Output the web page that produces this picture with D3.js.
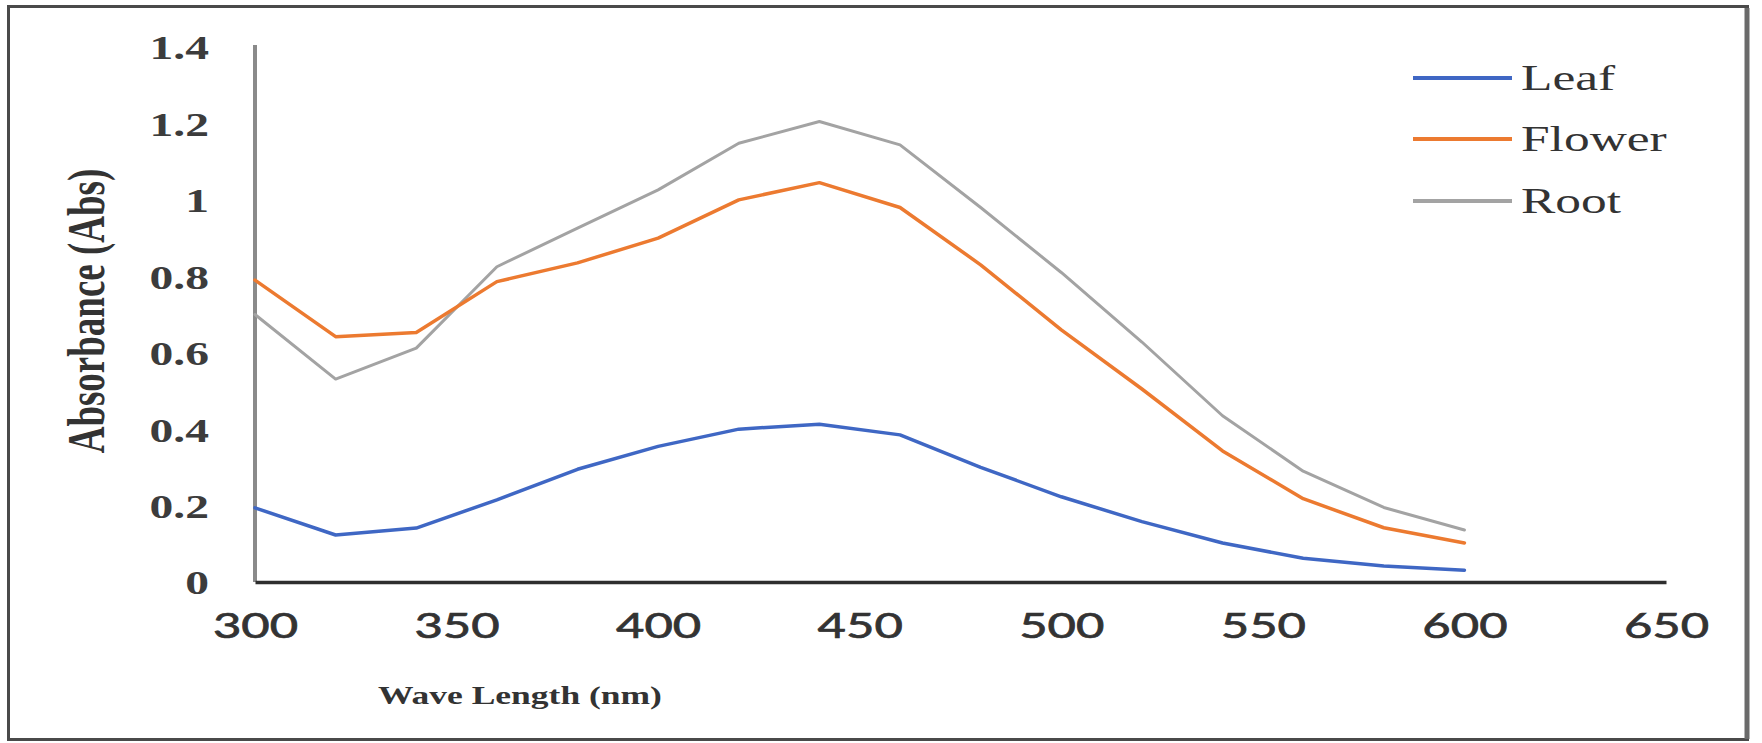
<!DOCTYPE html>
<html>
<head>
<meta charset="utf-8">
<script src="https://cdn.jsdelivr.net/npm/d3@7"></script>
<style>
  html, body { margin: 0; padding: 0; background: #ffffff; }
  svg { display: block; }
</style>
</head>
<body>
<svg id="chart" width="1762" height="743"></svg>
<script>
// ---- data ----
const wavelengths = [300, 320, 340, 360, 380, 400, 420, 440, 460, 480, 500, 520, 540, 560, 580, 600];
const leaf   = [0.194, 0.123, 0.141, 0.215, 0.295, 0.355, 0.400, 0.413, 0.385, 0.300, 0.223, 0.158, 0.102, 0.062, 0.042, 0.031];
const flower = [0.790, 0.642, 0.653, 0.786, 0.835, 0.900, 1.000, 1.045, 0.980, 0.830, 0.660, 0.505, 0.343, 0.218, 0.142, 0.102];
const root   = [0.700, 0.531, 0.612, 0.825, 0.926, 1.026, 1.148, 1.205, 1.144, 0.980, 0.810, 0.628, 0.435, 0.290, 0.195, 0.136];
const seriesNames = ["Leaf", "Flower", "Root"];
const seriesColors = ["#3f67c4", "#ec7a30", "#a3a3a3"];
const xTicks = [300, 350, 400, 450, 500, 550, 600, 650];
const yTicks = [0, 0.2, 0.4, 0.6, 0.8, 1.0, 1.2, 1.4];
const yTickLabels = ["0", "0.2", "0.4", "0.6", "0.8", "1", "1.2", "1.4"];
const xTitle = "Wave Length (nm)";
const yTitle = "Absorbance (Abs)";

const svg = d3.select("#chart");

// outer frame
svg.append("rect")
  .attr("x", 8.5).attr("y", 6.5).attr("width", 1739).attr("height", 733)
  .attr("fill", "#ffffff").attr("stroke", "#4a4a4a").attr("stroke-width", 3);
svg.append("line")
  .attr("x1", 1747).attr("x2", 1747).attr("y1", 8).attr("y2", 739)
  .attr("stroke", "#6a6a6a").attr("stroke-width", 5);

const x = d3.scaleLinear().domain([300, 650]).range([255, 1666]);
const y = d3.scaleLinear().domain([0, 1.4]).range([582, 47]);

// y axis
const gy = svg.append("g").attr("transform", `translate(${x(300)},0)`)
  .call(d3.axisLeft(y).tickValues(yTicks).tickSize(0).tickSizeOuter(0)
        .tickFormat((d, i) => yTickLabels[i]));
gy.select(".domain").attr("stroke", "#8a8a8a").attr("stroke-width", 4)
  .attr("d", `M0,${y(1.4) - 2}V${y(0)}`);
gy.selectAll(".tick text")
  .attr("x", 0).attr("dy", "0.35em")
  .attr("transform", "translate(-46,0) scale(1.4,1)")
  .attr("text-anchor", "end")
  .attr("fill", "#3c3c3c")
  .style("font-family", "'Liberation Serif', 'Times New Roman', serif")
  .style("font-weight", "bold")
  .style("font-size", "34px");

// x axis
const gx = svg.append("g").attr("transform", `translate(0,${y(0)})`)
  .call(d3.axisBottom(x).tickValues(xTicks).tickSize(0).tickSizeOuter(0)
        .tickFormat(d3.format("d")));
gx.select(".domain").attr("stroke", "#2e2e2e").attr("stroke-width", 3.5);
gx.selectAll(".tick text")
  .attr("y", 56).attr("dy", 0)
  .attr("transform", "scale(1.4,1)")
  .attr("text-anchor", "middle")
  .attr("fill", "#333333")
  .attr("stroke", "#333333")
  .attr("stroke-width", 0.7)
  .style("font-family", "Lato, 'Open Sans', sans-serif")
  .style("font-size", "35px");

// axis titles
svg.append("text")
  .attr("transform", "translate(520,704) scale(1.42,1)")
  .attr("text-anchor", "middle")
  .attr("fill", "#333")
  .style("font-family", "'Liberation Serif', 'Times New Roman', serif")
  .style("font-weight", "bold")
  .style("font-size", "25px")
  .text(xTitle);

svg.append("text")
  .attr("transform", "translate(104,311) rotate(-90) scale(1,1.4)")
  .attr("text-anchor", "middle")
  .attr("fill", "#333")
  .style("font-family", "'Liberation Serif', 'Times New Roman', serif")
  .style("font-weight", "bold")
  .style("font-size", "37px")
  .text(yTitle);

// series lines
const seriesValues = [leaf, flower, root];
const line = d3.line()
  .x((d, i) => x(wavelengths[i]))
  .y(d => y(d));

// draw root first (behind), then flower, then leaf
[2, 1, 0].forEach(k => {
  svg.append("path")
    .datum(seriesValues[k])
    .attr("fill", "none")
    .attr("stroke", seriesColors[k])
    .attr("stroke-width", k === 2 ? 3 : 3.5)
    .attr("stroke-linejoin", "round")
    .attr("stroke-linecap", "round")
    .attr("d", line);
});

// legend
const legendY = [78, 139, 201];
const lg = svg.append("g");
seriesNames.forEach((name, i) => {
  lg.append("line")
    .attr("x1", 1413).attr("x2", 1512)
    .attr("y1", legendY[i]).attr("y2", legendY[i])
    .attr("stroke", seriesColors[i]).attr("stroke-width", 4);
  lg.append("text")
    .attr("transform", `translate(1521,${legendY[i]}) scale(1.47,1)`)
    .attr("dy", "0.33em")
    .attr("fill", "#333")
    .style("font-family", "'Liberation Serif', 'Times New Roman', serif")
    .style("font-size", "35px")
    .text(name);
});
</script>
</body>
</html>
